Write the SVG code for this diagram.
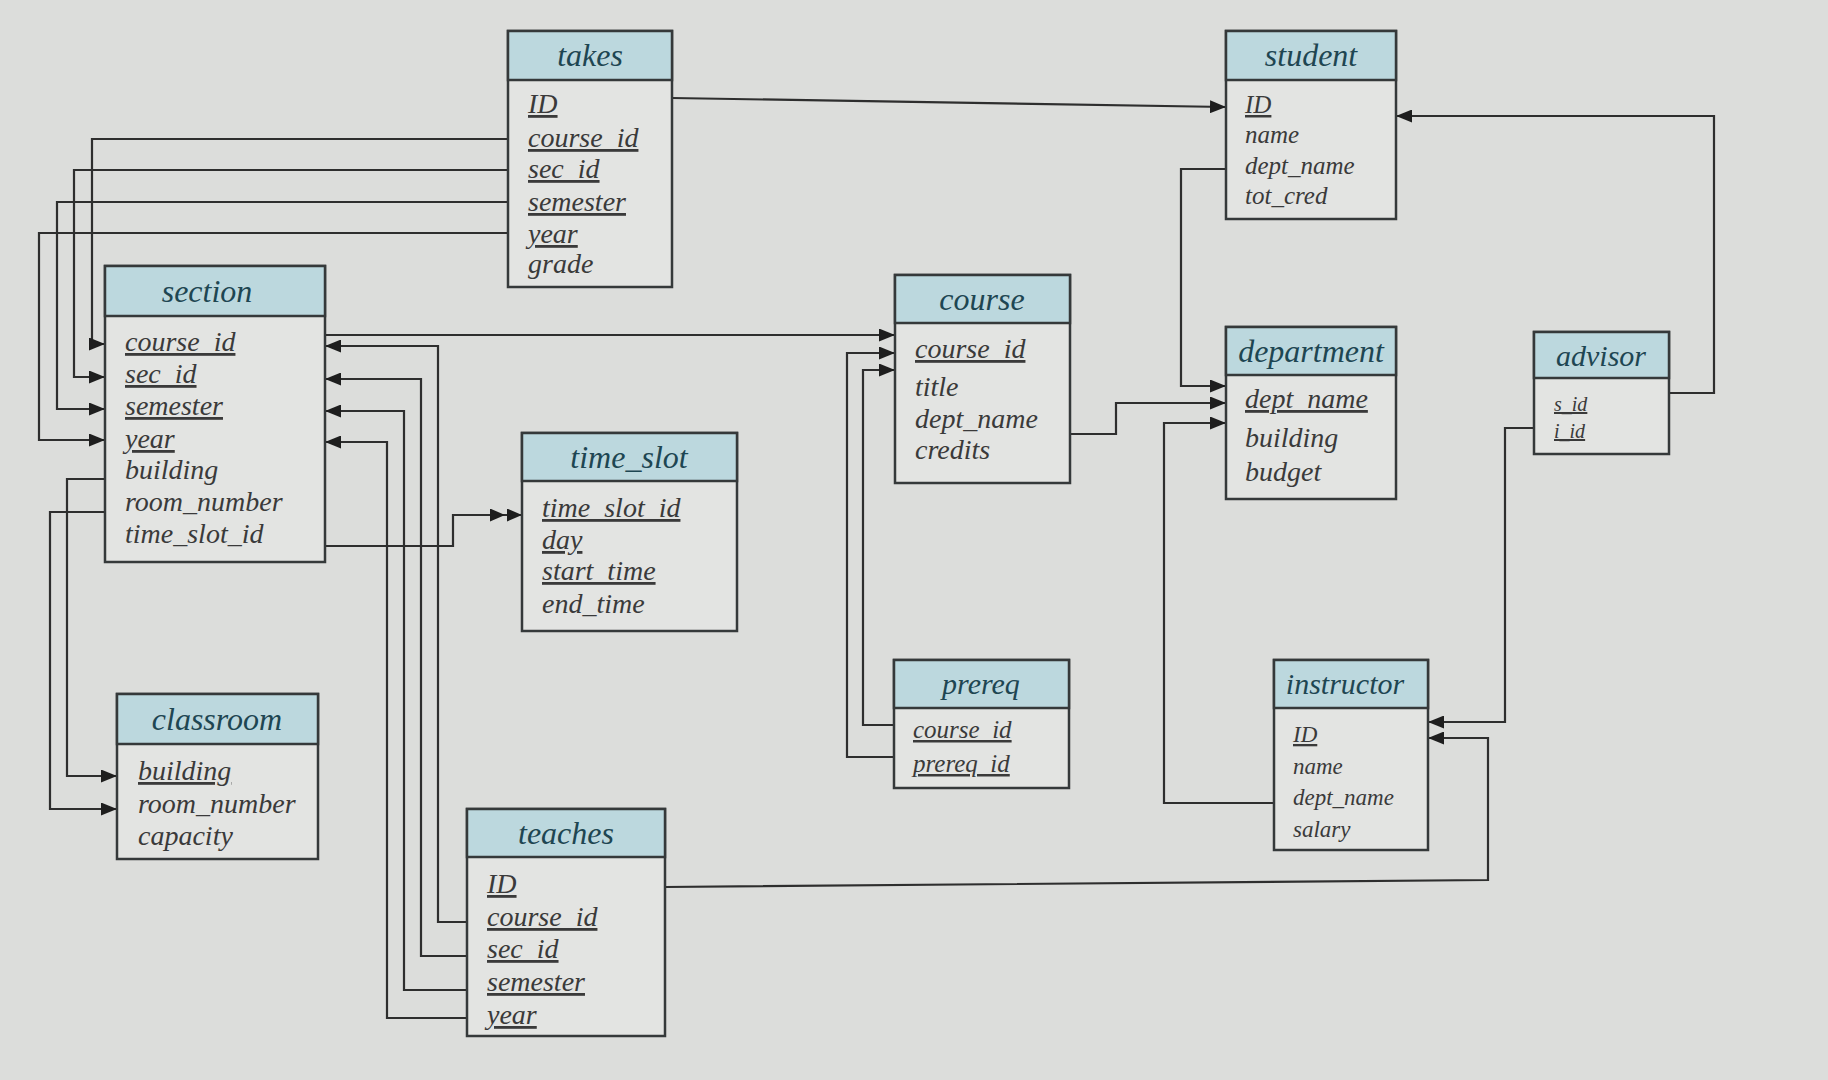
<svg xmlns="http://www.w3.org/2000/svg" width="1828" height="1080" viewBox="0 0 1828 1080">
<defs>
<style>
.bg{fill:#dcdddb}
.body{fill:#e3e4e2;stroke:#35393a;stroke-width:2.5}
.head{fill:#bcd8de;stroke:#35393a;stroke-width:2.5}
.title{font-family:"Liberation Serif",serif;font-style:italic;font-size:32px;fill:#1e4652;text-anchor:middle}
.f{font-family:"Liberation Serif",serif;font-style:italic;font-size:28px;fill:#3a3a3a}
.fs{font-family:"Liberation Serif",serif;font-style:italic;font-size:25px;fill:#3a3a3a}
.fx{font-family:"Liberation Serif",serif;font-style:italic;font-size:23px;fill:#3a3a3a}
.pk{text-decoration:underline}
.c{fill:none;stroke:#2e2e2e;stroke-width:2.2}
</style>
<marker id="a" viewBox="0 0 16 13" refX="16" refY="6.5" markerWidth="16" markerHeight="13" markerUnits="userSpaceOnUse" orient="auto">
<path d="M0,0 L16,6.5 L0,13 z" fill="#1e1e1e"/>
</marker>
<marker id="a2" viewBox="0 0 32 13" refX="32" refY="6.5" markerWidth="32" markerHeight="13" markerUnits="userSpaceOnUse" orient="auto">
<path d="M0,0 L15,6.5 L0,13 z M17,0 L32,6.5 L17,13 z" fill="#1e1e1e"/>
</marker>
</defs>
<rect class="bg" x="0" y="0" width="1828" height="1080"/>

<g id="connectors">
<path class="c" d="M672,98 L1226,107" marker-end="url(#a)"/>
<path class="c" d="M508,139 H92 V344 H105" marker-end="url(#a)"/>
<path class="c" d="M508,170 H74 V377 H105" marker-end="url(#a)"/>
<path class="c" d="M508,202 H57 V409 H105" marker-end="url(#a)"/>
<path class="c" d="M508,233 H39 V440 H105" marker-end="url(#a)"/>
<path class="c" d="M325,335 H895" marker-end="url(#a)"/>
<path class="c" d="M105,479 H67 V776 H117" marker-end="url(#a)"/>
<path class="c" d="M105,512 H50 V809 H117" marker-end="url(#a)"/>
<path class="c" d="M325,546 H453 V515 H522" marker-end="url(#a2)"/>
<path class="c" d="M467,922 H438 V346 H325" marker-end="url(#a)"/>
<path class="c" d="M467,956 H421 V379 H325" marker-end="url(#a)"/>
<path class="c" d="M467,990 H404 V411 H325" marker-end="url(#a)"/>
<path class="c" d="M467,1018 H387 V442 H325" marker-end="url(#a)"/>
<path class="c" d="M665,887 L1488,880 V738 H1428" marker-end="url(#a)"/>
<path class="c" d="M894,757 H847 V353 H895" marker-end="url(#a)"/>
<path class="c" d="M894,725 H863 V370 H895" marker-end="url(#a)"/>
<path class="c" d="M1070,434 H1116 V403 H1226" marker-end="url(#a)"/>
<path class="c" d="M1226,169 H1181 V386 H1226" marker-end="url(#a)"/>
<path class="c" d="M1274,803 H1164 V423 H1226" marker-end="url(#a)"/>
<path class="c" d="M1669,393 H1714 V116 H1396" marker-end="url(#a)"/>
<path class="c" d="M1534,428 H1505 V722 H1428" marker-end="url(#a)"/>
</g>

<g id="takes">
<rect class="body" x="508" y="31" width="164" height="256"/>
<rect class="head" x="508" y="31" width="164" height="49"/>
<text class="title" x="590" y="66">takes</text>
<text class="f pk" x="528" y="113">ID</text>
<text class="f pk" x="528" y="147">course_id</text>
<text class="f pk" x="528" y="178">sec_id</text>
<text class="f pk" x="528" y="211">semester</text>
<text class="f pk" x="528" y="243">year</text>
<text class="f" x="528" y="273">grade</text>
</g>

<g id="student">
<rect class="body" x="1226" y="31" width="170" height="188"/>
<rect class="head" x="1226" y="31" width="170" height="49"/>
<text class="title" x="1311" y="66">student</text>
<text class="fs pk" x="1245" y="113">ID</text>
<text class="fs" x="1245" y="143">name</text>
<text class="fs" x="1245" y="174">dept_name</text>
<text class="fs" x="1245" y="204">tot_cred</text>
</g>

<g id="section">
<rect class="body" x="105" y="266" width="220" height="296"/>
<rect class="head" x="105" y="266" width="220" height="50"/>
<text class="title" x="207" y="302">section</text>
<text class="f pk" x="125" y="351">course_id</text>
<text class="f pk" x="125" y="383">sec_id</text>
<text class="f pk" x="125" y="415">semester</text>
<text class="f pk" x="125" y="448">year</text>
<text class="f" x="125" y="479">building</text>
<text class="f" x="125" y="511">room_number</text>
<text class="f" x="125" y="543">time_slot_id</text>
</g>

<g id="course">
<rect class="body" x="895" y="275" width="175" height="208"/>
<rect class="head" x="895" y="275" width="175" height="48"/>
<text class="title" x="982" y="310">course</text>
<text class="f pk" x="915" y="358">course_id</text>
<text class="f" x="915" y="396">title</text>
<text class="f" x="915" y="428">dept_name</text>
<text class="f" x="915" y="459">credits</text>
</g>

<g id="department">
<rect class="body" x="1226" y="327" width="170" height="172"/>
<rect class="head" x="1226" y="327" width="170" height="48"/>
<text class="title" x="1311" y="362">department</text>
<text class="f pk" x="1245" y="408">dept_name</text>
<text class="f" x="1245" y="447">building</text>
<text class="f" x="1245" y="481">budget</text>
</g>

<g id="advisor">
<rect class="body" x="1534" y="332" width="135" height="122"/>
<rect class="head" x="1534" y="332" width="135" height="46"/>
<text class="title" x="1601" y="366" style="font-size:30px">advisor</text>
<text class="fx pk" x="1554" y="411" style="font-size:20px">s_id</text>
<text class="fx pk" x="1554" y="438" style="font-size:20px">i_id</text>
</g>

<g id="time_slot">
<rect class="body" x="522" y="433" width="215" height="198"/>
<rect class="head" x="522" y="433" width="215" height="48"/>
<text class="title" x="629" y="468">time_slot</text>
<text class="f pk" x="542" y="517">time_slot_id</text>
<text class="f pk" x="542" y="549">day</text>
<text class="f pk" x="542" y="580">start_time</text>
<text class="f" x="542" y="613">end_time</text>
</g>

<g id="classroom">
<rect class="body" x="117" y="694" width="201" height="165"/>
<rect class="head" x="117" y="694" width="201" height="50"/>
<text class="title" x="217" y="730">classroom</text>
<text class="f pk" x="138" y="780">building</text>
<text class="f" x="138" y="813">room_number</text>
<text class="f" x="138" y="845">capacity</text>
</g>

<g id="prereq">
<rect class="body" x="894" y="660" width="175" height="128"/>
<rect class="head" x="894" y="660" width="175" height="48"/>
<text class="title" x="981" y="694" style="font-size:30px">prereq</text>
<text class="fs pk" x="913" y="738">course_id</text>
<text class="fs pk" x="913" y="772">prereq_id</text>
</g>

<g id="instructor">
<rect class="body" x="1274" y="660" width="154" height="190"/>
<rect class="head" x="1274" y="660" width="154" height="48"/>
<text class="title" x="1345" y="694" style="font-size:30px">instructor</text>
<text class="fx pk" x="1293" y="742">ID</text>
<text class="fx" x="1293" y="774">name</text>
<text class="fx" x="1293" y="805">dept_name</text>
<text class="fx" x="1293" y="837">salary</text>
</g>

<g id="teaches">
<rect class="body" x="467" y="809" width="198" height="227"/>
<rect class="head" x="467" y="809" width="198" height="48"/>
<text class="title" x="566" y="844">teaches</text>
<text class="f pk" x="487" y="893">ID</text>
<text class="f pk" x="487" y="926">course_id</text>
<text class="f pk" x="487" y="958">sec_id</text>
<text class="f pk" x="487" y="991">semester</text>
<text class="f pk" x="487" y="1024">year</text>
</g>
</svg>
